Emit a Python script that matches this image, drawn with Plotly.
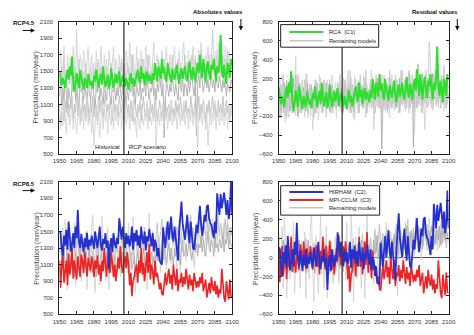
import plotly.graph_objects as go

# ---------------------------------------------------------------- data
YEARS = list(range(1950, 2101))
HIST_END = 2006          # boundary between historical run and RCP scenario
HIST_LAST_YEAR = 2005

# RCP4.5 -- RCA (C1), annual precipitation (mm/year)
rca_45 = [
    1500, 1380, 1330, 1420, 1360, 1300, 1450, 1520, 1400, 1560,
    1450, 1680, 1380, 1260, 1330, 1480, 1390, 1300, 1520, 1450,
    1350, 1280, 1420, 1360, 1300, 1470, 1400, 1330, 1380, 1290,
    1450, 1380, 1520, 1360, 1300, 1410, 1470, 1340, 1560, 1420,
    1310, 1380, 1460, 1290, 1350, 1540, 1430, 1300, 1380, 1470,
    1360, 1420, 1500, 1310, 1390, 1450, 1380, 1310, 1420, 1350,
    1280, 1400, 1480, 1350, 1420, 1310, 1370, 1450, 1520, 1400,
    1360, 1560, 1410, 1480, 1330, 1450, 1500, 1380, 1460, 1420,
    1350, 1480, 1400, 1600, 1470, 1380, 1560, 1500, 1410, 1650,
    1480, 1550, 1420, 1380, 1600, 1500, 1430, 1370, 1530, 1460,
    1400, 1500, 1580, 1430, 1350, 1470, 1540, 1410, 1480, 1560,
    1430, 1380, 1500, 1620, 1470, 1400, 1550, 1450, 1380, 1520,
    1600, 1480, 1700, 1550, 1420, 1650, 1500, 1380, 1560, 1620,
    1480, 1400, 1580, 1520, 1650, 1450, 1380, 1560, 1480, 1600,
    1940, 1520, 1420, 1580, 1480, 1350, 1600, 1550, 1420, 1650,
    1580,
]

# RCP4.5 -- remaining models
others_45 = [
    [1500, 1750, 1350, 1600, 1800, 1400, 1300, 1700, 1550, 1350,
     1650, 1450, 1800, 1550, 1400, 2000, 1500, 1350, 1700, 1600,
     1450, 1750, 1550, 1350, 1650, 1800, 1400, 1550, 1700, 1450,
     1600, 1350, 1750, 1500, 1650, 1450, 1800, 1550, 1400, 1700,
     1500, 1650, 1350, 1750, 1550, 1450, 1600, 1800, 1400, 1650,
     1550, 1350, 1700, 1500, 1650, 1450, 1600, 1400, 1750, 1550,
     1450, 1850, 1600, 1400, 1700, 1550, 1350, 1800, 1500, 1650,
     1400, 1750, 1550, 1650, 1450, 1800, 1500, 1350, 1700, 1600,
     1450, 1650, 1850, 1500, 1400, 1700, 1550, 1600, 1450, 1750,
     1550, 1400, 1650, 1800, 1500, 1450, 1700, 1550, 1350, 1650,
     1800, 1500, 1600, 1450, 1750, 1550, 1400, 1700, 1850, 1500,
     1600, 1450, 1750, 1550, 1650, 1400, 1800, 1500, 1700, 1550,
     1450, 1750, 1600, 1850, 1500, 1650, 1400, 1700, 1550, 1800,
     1600, 1500, 1700, 1700, 1550, 1450, 1750, 1600, 1850, 1500,
     1650, 1450, 1700, 1550, 1800, 1600, 1500, 1750, 1450, 1650,
     1550],
    [1200, 1350, 1100, 1300, 1150, 1400, 1250, 1050, 1300, 1200,
     1100, 1350, 1250, 1450, 1150, 1300, 1200, 1050, 1400, 1250,
     1300, 1150, 1350, 1200, 1100, 1400, 1250, 1150, 1300, 1350,
     1200, 1050, 1300, 1250, 1400, 1150, 1300, 1200, 1100, 1350,
     1250, 1150, 1400, 1300, 1200, 1100, 1350, 1250, 1300, 1150,
     1300, 1200, 1400, 1250, 1150, 1350, 1200, 1100, 1300, 1250,
     1150, 1350, 1250, 1400, 1200, 1300, 1100, 1350, 1250, 1200,
     1400, 1150, 1300, 1250, 1350, 1200, 1450, 1250, 1150, 1300,
     1250, 1400, 1200, 1300, 1150, 1350, 1250, 1450, 1300, 1200,
     1350, 700, 1150, 1400, 1300, 1200, 1350, 1250, 1450, 1300,
     1200, 1350, 1250, 1150, 1400, 1300, 1250, 1450, 1200, 1350,
     1300, 1200, 1400, 1250, 1350, 1500, 1300, 1200, 1400, 720,
     1350, 1450, 1300, 1600, 1400, 1250, 1350, 1500, 1300, 1400,
     1250, 1350, 1450, 1300, 1400, 1250, 1500, 1350, 1300, 1450,
     1350, 1250, 1400, 1300, 1450, 1200, 1350, 1300, 1250, 1400,
     1350],
    [1100, 850, 1050, 1200, 900, 1150, 1000, 1250, 950, 1100,
     1050, 1200, 900, 1100, 1000, 1300, 950, 1150, 1050, 900,
     1200, 1000, 1100, 950, 1250, 1050, 900, 1150, 1000, 1200,
     950, 1100, 1050, 900, 1200, 1000, 1150, 1050, 950, 1100,
     1250, 1000, 1100, 950, 1150, 1050, 900, 1200, 1000, 1100,
     1050, 950, 1200, 1100, 1000, 1150, 900, 1050, 1200, 1000,
     1100, 950, 1150, 1000, 900, 1200, 1050, 950, 1100, 1000,
     1150, 900, 1050, 1200, 1000, 950, 1100, 1050, 900, 1150,
     1000, 1100, 950, 1200, 1050, 900, 1000, 1150, 1050, 950,
     1100, 1000, 1200, 950, 1050, 1100, 900, 1150, 1000, 1050,
     950, 1150, 1000, 1100, 950, 1200, 1050, 900, 1100, 1000,
     1150, 1000, 1050, 950, 1200, 1100, 950, 1050, 1150, 1000,
     1050, 1200, 950, 1100, 1000, 1150, 1050, 900, 1100, 1000,
     1150, 950, 1050, 1200, 1000, 1100, 950, 1050, 1150, 1000,
     1100, 1000, 1200, 950, 1050, 1150, 1000, 1100, 950, 1050,
     1100],
    [950, 800, 1050, 850, 1150, 900, 750, 1000, 1100, 850,
     950, 1200, 800, 1050, 900, 750, 1000, 1150, 850, 950,
     1100, 800, 1000, 900, 1200, 850, 950, 1050, 750, 1000,
     600, 900, 1100, 850, 1000, 700, 950, 1150, 800, 1050,
     900, 1000, 750, 1100, 950, 850, 1050, 800, 1000, 900,
     1100, 850, 950, 1050, 800, 1000, 900, 1150, 850, 950,
     1050, 800, 1000, 900, 1150, 850, 950, 700, 1050, 900,
     800, 1100, 950, 850, 1000, 900, 1150, 800, 1050, 950,
     850, 1000, 900, 1100, 600, 950, 1050, 850, 1000, 900,
     1100, 850, 950, 1050, 800, 1000, 900, 1150, 850, 1000,
     900, 1050, 800, 950, 1100, 850, 1000, 900, 1150, 850,
     950, 1050, 800, 1000, 900, 1100, 850, 950, 1050, 900,
     580, 1000, 900, 1100, 850, 950, 1050, 800, 1000, 600,
     900, 1050, 850, 1000, 900, 1150, 800, 950, 1050, 850,
     1000, 900, 1100, 850, 950, 1050, 800, 1000, 900, 1100,
     950],
    [1400, 1250, 1550, 1350, 1650, 1300, 1450, 1200, 1500, 1350,
     1600, 1300, 1450, 1250, 1550, 1400, 1300, 1650, 1350, 1450,
     1250, 1500, 1350, 1600, 1300, 1450, 1200, 1550, 1400, 1300,
     1500, 1350, 1250, 1600, 1400, 1300, 1550, 1350, 1450, 1250,
     1400, 1550, 1300, 1450, 1350, 1600, 1250, 1400, 1500, 1350,
     1450, 1300, 1550, 1350, 1650, 1400, 1300, 1500, 1350, 1600,
     1400, 1550, 1300, 1700, 1450, 1350, 1500, 1250, 1600, 1400,
     1500, 1350, 1650, 1400, 1300, 1550, 1450, 1700, 1350, 1500,
     1400, 1600, 1300, 1500, 1450, 1350, 1650, 1400, 1550, 1300,
     1500, 1650, 1400, 1350, 1600, 1450, 1550, 1300, 1700, 1400,
     1550, 1350, 1500, 1650, 1400, 1600, 1300, 1500, 1450, 1700,
     1400, 1600, 1450, 1350, 1550, 1700, 1400, 1500, 1650, 1350,
     1600, 1450, 1550, 1750, 1400, 1650, 1500, 1350, 1600, 1450,
     1700, 1500, 1600, 2000, 1750, 1550, 1450, 1650, 1500, 1600,
     1450, 1700, 1550, 1400, 1650, 1500, 1750, 1450, 1600, 1550,
     1500],
]

# RCP8.5 -- HIRHAM (C2)
hirham_85 = [
    1500, 1480, 1300, 1200, 1450, 1330, 1520, 1280, 1620, 1390,
    1260, 1350, 1480, 1300, 1560, 1420, 1760, 1380, 1300, 1470,
    1350, 1250, 1420, 1310, 1480, 1280, 1400, 1330, 1450, 1360,
    1290, 1500, 1380, 1300, 1420, 1560, 1340, 1270, 1410, 1350,
    1480, 1300, 1390, 1050, 1330, 1420, 1250, 1480, 1360, 1300,
    1420, 1350, 1660, 1500, 1400, 1560, 1420, 1300, 1480, 1350,
    1450, 1320, 1400, 1560, 1280, 1480, 1380, 1520, 1330, 1450,
    1300, 1560, 1420, 1350, 1500, 1270, 1440, 1380, 1530, 1400,
    1320, 1480, 1260, 1400, 1350, 1200, 1300, 1150, 1120, 1100,
    1550, 1380, 1300, 1470, 1620, 1400, 1520, 1680, 1450, 1380,
    1560, 1420, 1320, 1150, 1500, 1650, 1860, 1600, 1480, 1400,
    1550, 1700, 1500, 1360, 1620, 1420, 1300, 1280, 1500, 1580,
    1480, 1700, 1810, 1600, 1450, 1550, 1700, 1620, 1800, 1820,
    1650, 1600, 1580, 1500, 1420, 1620, 1480, 1960, 1800, 1700,
    1950, 1780, 1870, 1970, 1850, 1700, 1880, 1650, 1750, 2100,
    1700,
]

# RCP8.5 -- MPI-CCLM (C3)
mpi_85 = [
    1150, 820, 1100, 1200, 880, 1050, 1150, 850, 1230, 980,
    1100, 1300, 930, 1150, 1050, 920, 1200, 1080, 950, 1220,
    1150, 1000, 1250, 1080, 960, 1180, 1100, 1020, 1200, 1130,
    950, 1150, 1050, 1210, 980, 1100, 900, 1150, 1020, 1300,
    1100, 950, 1200, 1050, 1000, 1250, 1120, 950, 1100, 900,
    1020, 1180, 1050, 1320, 1100, 1000, 1150, 1200, 1060, 1250,
    1100, 850, 1000, 720, 900, 950, 1050, 1100, 880, 1150,
    1000, 1300, 980, 1120, 900, 1050, 1250, 1000, 1350, 920,
    1100, 1020, 860, 1150, 950, 1000, 900, 800, 880, 750,
    730, 900, 1000, 850, 950, 1050, 870, 980, 800, 1100,
    950, 850, 1050, 780, 920, 880, 1000, 830, 950, 860,
    1050, 900, 800, 980, 850, 920, 780, 1000, 880, 820,
    900, 830, 950, 870, 1000, 780, 850, 920, 700, 800,
    880, 750, 950, 830, 780, 900, 740, 850, 700, 800,
    750, 1050, 850, 700, 650, 900, 780, 680, 920, 720,
    700,
]

# RCP8.5 -- remaining models
others_85 = [
    [1500, 1300, 1100, 1550, 900, 1650, 1400, 800, 1200, 1350,
     1000, 1450, 1250, 1600, 850, 1300, 1550, 1100, 1200, 900,
     1400, 1250, 1100, 1500, 800, 1350, 1200, 1000, 1550, 1700,
     1150, 760, 1300, 1450, 1100, 850, 1250, 1680, 1050, 1350,
     900, 1200, 1550, 800, 1300, 1050, 1400, 1150, 950, 1250,
     1450, 1100, 1300, 950, 1250, 1400, 1050, 1200, 1350, 1000,
     1600, 1250, 850, 1050, 1680, 1350, 760, 1200, 1450, 1000,
     1300, 1550, 1150, 900, 1250, 1400, 800, 1450, 1720, 1200,
     1050, 1300, 1400, 1100, 950, 1250, 1450, 1200, 1000, 1350,
     1500, 1150, 1300, 1050, 1400, 1600, 1250, 1100, 1350, 1500,
     1200, 1400, 1050, 1550, 1300, 820, 1450, 1250, 1500, 1350,
     1150, 1450, 1600, 1300, 1200, 1500, 1350, 1050, 1400, 1550,
     1250, 1650, 1400, 1300, 1550, 1450, 1200, 1500, 1350, 1600,
     1450, 1300, 1500, 1650, 1400, 1250, 1550, 1350, 1700, 1450,
     1300, 1550, 1400, 1600, 1350, 1500, 1650, 1400, 1550, 1450,
     1500],
    [1250, 1400, 1150, 1350, 1200, 1450, 1300, 1100, 1380, 1250,
     1320, 1150, 1400, 1280, 1200, 1350, 1450, 1250, 1150, 1300,
     1400, 1200, 1350, 1250, 1500, 1300, 1150, 1400, 1280, 1200,
     1350, 1450, 1200, 1300, 1250, 1400, 1150, 1320, 1380, 1250,
     1300, 1400, 1150, 1350, 1250, 1200, 1450, 1300, 1180, 1350,
     1250, 1400, 1300, 1200, 1450, 1350, 1250, 1150, 1300, 1400,
     1350, 1250, 1450, 1300, 1200, 1400, 1500, 1300, 1250, 1350,
     1450, 1300, 1400, 1250, 1550, 1350, 1300, 1450, 1400, 1300,
     1350, 1500, 1400, 1300, 1450, 1600, 1350, 1400, 1500, 1650,
     1400, 1300, 1550, 1450, 1350, 1500, 1600, 1400, 1450, 1350,
     1500, 1400, 1550, 1450, 1650, 1350, 1500, 1600, 1450, 1400,
     1550, 1500, 1400, 1600, 1700, 1450, 1550, 1400, 1500, 1600,
     1450, 1550, 1650, 1500, 1400, 1600, 1500, 1450, 1700, 1550,
     1500, 1650, 1450, 1550, 1600, 1400, 1500, 1650, 1550, 1450,
     1600, 1500, 1400, 1550, 1650, 1450, 1600, 1500, 1400, 1550,
     1450],
    [1100, 950, 1200, 1050, 1300, 1000, 1150, 1250, 950, 1100,
     1200, 1050, 1150, 950, 1250, 1100, 1000, 1200, 1300, 1050,
     1150, 1000, 1100, 1250, 950, 1150, 1300, 1050, 1100, 1000,
     1200, 1100, 950, 1150, 1250, 1050, 1100, 1000, 1200, 1150,
     1050, 1250, 1100, 1000, 1150, 1300, 1050, 1100, 1200, 950,
     1100, 1200, 1050, 1150, 1000, 1250, 1100, 1200, 1050, 1150,
     1000, 1150, 1250, 1050, 1100, 1200, 950, 1150, 1250, 1100,
     1050, 1200, 1100, 1300, 1150, 1000, 1200, 1250, 1100, 1150,
     1250, 1100, 1200, 1050, 1300, 1150, 1200, 1350, 1100, 1250,
     1150, 1300, 1200, 1100, 1250, 1350, 1150, 1300, 1200, 1100,
     1300, 1200, 1350, 1150, 1250, 1100, 1300, 1400, 1200, 1250,
     1350, 1200, 1300, 1450, 1250, 1150, 1300, 1400, 1250, 1350,
     1200, 1350, 1300, 1450, 1250, 1400, 1300, 1200, 1350, 1500,
     1300, 1250, 1400, 1350, 1200, 1450, 1300, 1350, 1250, 1400,
     1350, 1300, 1450, 1250, 1400, 1350, 1500, 1300, 1400, 1350,
     1300],
]

for s in [rca_45, hirham_85, mpi_85] + others_45 + others_85:
    assert len(s) == len(YEARS)

ABS_TICKS = list(range(500, 2101, 200))
RES_TICKS = list(range(-600, 801, 200))
X_TICKS = list(range(1950, 2101, 15))

GREEN = "#2ee02e"
BLUE = "#2430d0"
RED = "#ee2424"
GREYS_45 = ["#d2d2d2", "#acacac", "#bcbcbc", "#d4d4d4", "#cacaca"]
GREYS_85 = ["#d2d2d2", "#bdbdbd", "#aaaaaa"]
FONT = "Liberation Sans"


def residual(series):
    """Anomaly relative to the model's own historical (1950-2005) mean."""
    n = HIST_LAST_YEAR - YEARS[0] + 1
    base = sum(series[:n]) / n
    return [v - base for v in series]


# ---------------------------------------------------------------- figure
W, H = 474, 335
fig = go.Figure()


def px_x(p):
    return p / W


def px_y(p):
    return 1 - p / H


panels = {
    "abs45": ("x", "y"),
    "res45": ("x2", "y2"),
    "abs85": ("x3", "y3"),
    "res85": ("x4", "y4"),
}


def add_line(panel, values, color, width):
    xa, ya = panels[panel]
    fig.add_trace(go.Scatter(
        x=YEARS, y=values, mode="lines", xaxis=xa, yaxis=ya,
        line=dict(color=color, width=width), showlegend=False,
        hoverinfo="skip"))


for s, c in zip(others_45, GREYS_45):
    add_line("abs45", s, c, 0.9)
    add_line("res45", residual(s), c, 0.9)
add_line("abs45", rca_45, GREEN, 2)
add_line("res45", residual(rca_45), GREEN, 2)

for s, c in zip(others_85, GREYS_85):
    add_line("abs85", s, c, 0.9)
    add_line("res85", residual(s), c, 0.9)
add_line("abs85", mpi_85, RED, 1.6)
add_line("abs85", hirham_85, BLUE, 1.8)
add_line("res85", residual(mpi_85), RED, 1.6)
add_line("res85", residual(hirham_85), BLUE, 1.8)

tick_font = dict(family=FONT, size=6, color="#333333")
axis_common = dict(
    showgrid=False, showline=True, linecolor="#222222", linewidth=1,
    mirror="ticks", ticks="inside", ticklen=3, tickcolor="#222222",
    tickfont=tick_font,
)

left_dom = [px_x(54), px_x(232)]
right_dom = [px_x(280), px_x(455)]
top_dom = [px_y(154), px_y(19)]
bot_dom = [px_y(317), px_y(182)]

layout_axes = {}
for i, (xd, yd, res) in enumerate([
        (left_dom, top_dom, False), (right_dom, top_dom, True),
        (left_dom, bot_dom, False), (right_dom, bot_dom, True)], start=1):
    sfx = "" if i == 1 else str(i)
    layout_axes["xaxis" + sfx] = dict(
        axis_common, domain=xd, range=[1950, 2100], tickvals=X_TICKS,
        anchor="y" + sfx, ticklabelstandoff=1)
    layout_axes["yaxis" + sfx] = dict(
        axis_common, domain=yd, anchor="x" + sfx,
        range=[-600, 800] if res else [500, 2100],
        tickvals=RES_TICKS if res else ABS_TICKS,
        ticklabelstandoff=4,
        zeroline=res, zerolinecolor="#4a4a4a", zerolinewidth=1.3)

fig.update_layout(
    width=W, height=H, margin=dict(l=0, r=0, t=0, b=0),
    paper_bgcolor="white", plot_bgcolor="white",
    font=dict(family=FONT, size=6, color="#333333"),
    **layout_axes,
)

# boundary between historical period and scenario
for xa, ya in panels.values():
    fig.add_shape(type="line", xref=xa, yref=f"{ya} domain",
                  x0=HIST_END, x1=HIST_END, y0=0, y1=1,
                  line=dict(color="#3a3a3a", width=1.3))

ann = []
centered = dict(xref="paper", yref="paper", xanchor="center",
                yanchor="middle", showarrow=False)

# y-axis titles
for xp, yc in [(30, 86), (256, 86), (30, 250), (256, 250)]:
    ann.append(dict(centered, text="Precipitation (mm/year)", x=px_x(xp),
                    y=px_y(yc), textangle=-90,
                    font=dict(size=7, color="#444444")))

# period labels
ann.append(dict(centered, text="Historical", x=px_x(118), y=px_y(147),
                xanchor="right", font=dict(size=6, color="#222222")))
ann.append(dict(centered, text="RCP scenario", x=px_x(124), y=px_y(147),
                xanchor="left", font=dict(size=6, color="#222222")))

# headings with arrows
bold = dict(size=6, color="#111111")
for txt, xc, yc in [("<b>RCP4.5</b>", 18, 20), ("<b>RCP8.5</b>", 18, 184),
                    ("<b>Absolutes values</b>", 217, 9),
                    ("<b>Residual values</b>", 441, 9)]:
    ann.append(dict(centered, text=txt, x=px_x(xc), y=px_y(yc), font=bold))
arrow = dict(text="", xref="paper", yref="paper", showarrow=True,
             arrowhead=2, arrowsize=0.9, arrowwidth=1, arrowcolor="#111111")
for hx, hy, axo, ayo in [(29, 28, -14, 0), (29, 191, -14, 0),
                         (241, 28, 0, -13), (464, 28, 0, -13)]:
    ann.append(dict(arrow, x=px_x(hx), y=px_y(hy), ax=axo, ay=ayo))


# legend boxes
def legend_box(x0, y0, x1, y1, entries):
    fig.add_shape(type="rect", xref="paper", yref="paper",
                  x0=px_x(x0), x1=px_x(x1), y0=px_y(y1), y1=px_y(y0),
                  line=dict(color="#222222", width=1), fillcolor="white",
                  layer="above")
    for (label, color, width), yy in entries:
        fig.add_shape(type="line", xref="paper", yref="paper",
                      x0=px_x(x0 + 9), x1=px_x(x0 + 44),
                      y0=px_y(yy), y1=px_y(yy),
                      line=dict(color=color, width=width), layer="above")
        ann.append(dict(centered, text=label, x=px_x(x0 + 48), y=px_y(yy),
                        xanchor="left", font=dict(size=5.7, color="#222222")))


legend_box(282, 22, 383, 45, [
    (("RCA\u00a0\u00a0(C1)", GREEN, 2), 29.5),
    (("Remaining models", "#c6c6c6", 1.5), 38.5),
])
legend_box(282, 186, 384, 216, [
    (("HIRHAM\u00a0\u00a0(C2)", BLUE, 2), 192.5),
    (("MPI-CCLM\u00a0\u00a0(C3)", RED, 2), 200.5),
    (("Remaining models", "#c6c6c6", 1.5), 208.5),
])

fig.update_layout(annotations=ann)
fig.write_html("out.html")
